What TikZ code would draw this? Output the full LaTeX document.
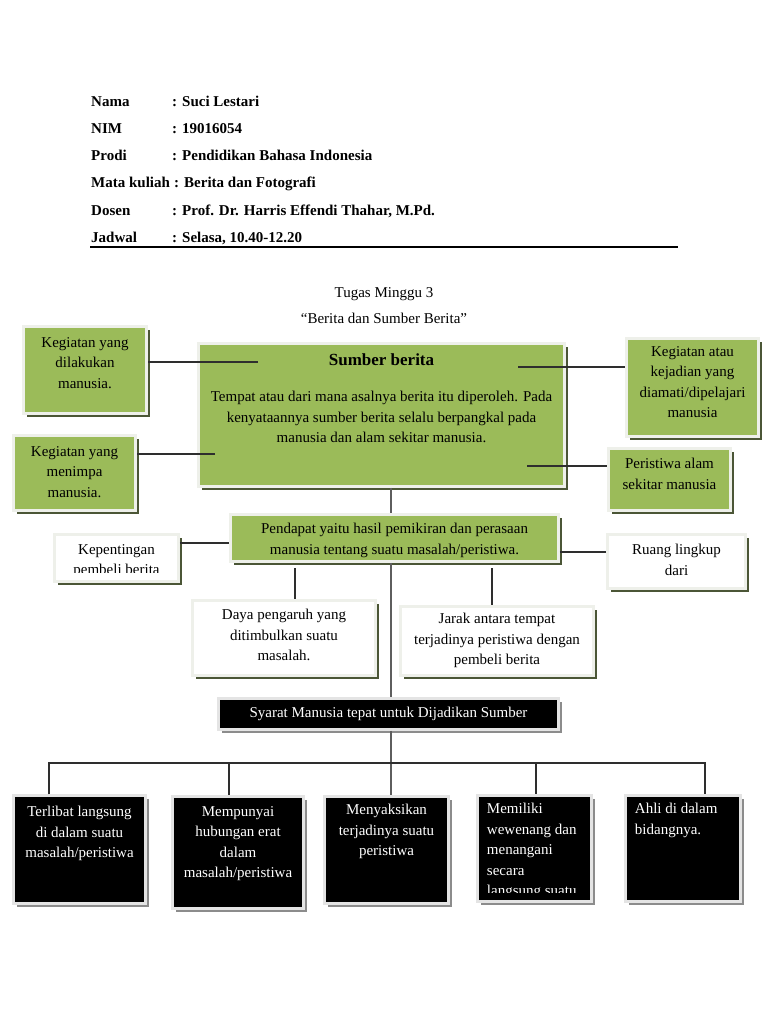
\documentclass[tikz,border=0pt]{standalone}
\usepackage{fontspec}
\setmainfont{Liberation Serif}
\usepackage{tikz}
\usetikzlibrary{positioning,shadows}

\definecolor{olive}{HTML}{9BBB59}
\definecolor{rim}{HTML}{EEF0EA}
\definecolor{krim}{HTML}{E4E4E4}
\definecolor{shade}{HTML}{4B5636}
\definecolor{kshade}{HTML}{8C8C8C}
\definecolor{linegrey}{HTML}{2E2E2E}
\definecolor{spinegrey}{HTML}{5E5E5E}

\begin{document}
\begin{tikzpicture}[
  x=1pt, y=-1pt,
  font=\fontsize{15}{20.5}\selectfont,
  wh/.style 2 args={minimum width=#1pt, minimum height=#2pt},
  box/.style={line width=2.5pt, inner sep=0pt},
  gbox/.style={box, draw=rim, fill=olive, drop shadow={shadow xshift=3pt, shadow yshift=-3pt, fill=shade, opacity=1}},
  wbox/.style={box, draw=rim, fill=white, drop shadow={shadow xshift=3pt, shadow yshift=-3pt, fill=shade, opacity=1}},
  kbox/.style={box, draw=krim, fill=black, drop shadow={shadow xshift=3pt, shadow yshift=-3pt, fill=kshade, opacity=1}},
  txt/.style={align=center, inner sep=0pt},
  ktxt/.style={txt, text=white},
  head/.style={anchor=base west, inner sep=0pt, font=\fontsize{15}{18}\selectfont\bfseries},
  link/.style={draw=linegrey, line width=1.2pt},
  spine/.style={draw=spinegrey, line width=1.8pt}
]
\useasboundingbox (0,0) rectangle (768,1024);

\node[head] (nama) at (91,107) {Nama};
\node[head] (nama-isi) at (172,107) {: Suci Lestari};
\node[head] (nim) at (91,134) {NIM};
\node[head] (nim-isi) at (172,134) {: 19016054};
\node[head] (prodi) at (91,161) {Prodi};
\node[head] (prodi-isi) at (172,161) {: Pendidikan Bahasa Indonesia};
\node[head] (matkul) at (91,188) {Mata kuliah};
\node[head] (matkul-isi) at (174,188) {: Berita dan Fotografi};
\node[head] (dosen) at (91,215) {Dosen};
\node[head] (dosen-isi) at (172,215) {: Prof. Dr. Harris Effendi Thahar, M.Pd.};
\node[head] (jadwal) at (91,242) {Jadwal};
\node[head] (jadwal-isi) at (172,242) {: Selasa, 10.40-12.20};
\draw[line width=1.2pt] (90,247) -- (678,247);

\node[anchor=base, inner sep=0pt] (tugas) at (384,297) {Tugas Minggu 3};
\node[anchor=base, inner sep=0pt] (judul) at (384,323) {“Berita dan Sumber Berita”};

\node[gbox, wh={123}{87}] (dilakukan) at (85,370) {};
\node[gbox, wh={122}{75}] (menimpa) at (74.5,473) {};
\node[gbox, wh={366}{143}] (sumber) at (381.5,415) {};
\node[gbox, wh={132}{98}] (kejadian) at (692.5,387.5) {};
\node[gbox, wh={122}{62}] (alam) at (669.5,479.5) {};
\node[gbox, wh={328}{47}] (pendapat) at (394.5,538) {};
\node[wbox, wh={124}{47}] (kepentingan) at (116.5,558) {};
\node[wbox, wh={138}{54}] (ruang) at (676.5,561.5) {};
\node[wbox, wh={183}{75}] (daya) at (284,638) {};
\node[wbox, wh={193}{69}] (jarak) at (497,641) {};
\node[kbox, wh={340}{31}] (syarat) at (388.5,714) {};
\node[kbox, wh={132}{108}] (terlibat) at (79.5,849.5) {};
\node[kbox, wh={131}{112}] (hubungan) at (238,852.5) {};
\node[kbox, wh={124}{107}] (saksi) at (386.5,850) {};
\node[kbox, wh={114}{106}] (wewenang) at (534.5,848.5) {};
\node[kbox, wh={115}{106}] (ahli) at (683,848.5) {};

\node[txt, below=12pt of dilakukan.north] (dilakukan-t) {Kegiatan yang\\dilakukan\\manusia.};
\node[txt, below=12pt of menimpa.north] (menimpa-t) {Kegiatan yang\\menimpa\\manusia.};
\node[txt, below=11pt of sumber.north, font=\fontsize{17}{20}\selectfont\bfseries] (sumber-judul) {Sumber berita};
\node[txt, below=49pt of sumber.north] (sumber-isi) {Tempat atau dari mana asalnya berita itu diperoleh. Pada\\kenyataannya sumber berita selalu berpangkal pada\\manusia dan alam sekitar manusia.};
\node[txt, below=9pt of kejadian.north] (kejadian-t) {Kegiatan atau\\kejadian yang\\diamati/dipelajari\\manusia};
\node[txt, below=11pt of alam.north] (alam-t) {Peristiwa alam\\sekitar manusia};
\node[txt, below=10pt of pendapat.north] (pendapat-t) {Pendapat yaitu hasil pemikiran dan perasaan\\manusia tentang suatu masalah/peristiwa.};
\begin{scope}
  \clip (kepentingan.north west) rectangle ([yshift=10pt]kepentingan.south east);
  \node[txt, below=11pt of kepentingan.north] (kepentingan-t) {Kepentingan\\pembeli berita};
\end{scope}
\node[txt, below=11pt of ruang.north] (ruang-t) {Ruang lingkup\\dari};
\node[txt, below=10pt of daya.north] (daya-t) {Daya pengaruh yang\\ditimbulkan suatu\\masalah.};
\begin{scope}
  \clip (jarak.north west) rectangle ([yshift=9.5pt]jarak.south east);
  \node[txt, below=8pt of jarak.north] (jarak-t) {Jarak antara tempat\\terjadinya peristiwa dengan\\pembeli berita};
\end{scope}
\node[ktxt] (syarat-t) at (syarat) {Syarat Manusia tepat untuk Dijadikan Sumber};
\node[ktxt, below=12pt of terlibat.north] (terlibat-t) {Terlibat langsung\\di dalam suatu\\masalah/peristiwa};
\node[ktxt, below=11pt of hubungan.north] (hubungan-t) {Mempunyai\\hubungan erat\\dalam\\masalah/peristiwa};
\node[ktxt, below=9pt of saksi.north] (saksi-t) {Menyaksikan\\terjadinya suatu\\peristiwa};
\begin{scope}
  \clip (wewenang.north west) rectangle ([yshift=10pt]wewenang.south east);
  \node[ktxt, align=left, below right=9pt and 10.5pt of wewenang.north west] (wewenang-t) {Memiliki\\wewenang dan\\menangani\\secara\\langsung suatu};
\end{scope}
\node[ktxt, align=left, below right=9pt and 10.5pt of ahli.north west] (ahli-t) {Ahli di dalam\\bidangnya.};

\coordinate (c-dilakukan) at (258,362);
\coordinate (c-menimpa) at (215,454);
\coordinate (c-kejadian) at (518,367);
\coordinate (c-alam) at (527,466);
\coordinate (c-kepentingan) at (205,543);
\coordinate (c-ruang) at (582,552);
\coordinate (c-daya) at (295,568);
\coordinate (c-jarak) at (492,568);
\coordinate (spine) at (391,763);
\coordinate (bar-l) at (49,763);
\coordinate (bar-2) at (229,763);
\coordinate (bar-4) at (536,763);
\coordinate (bar-r) at (705,763);

\draw[link] (c-dilakukan) -- (c-dilakukan -| dilakukan.east);
\draw[link] (c-menimpa) -- (c-menimpa -| menimpa.east);
\draw[link] (c-kejadian) -- (c-kejadian -| kejadian.west);
\draw[link] (c-alam) -- (c-alam -| alam.west);
\draw[link] (c-kepentingan -| kepentingan.east) -- (c-kepentingan -| pendapat.west);
\draw[link] (c-ruang -| pendapat.east) -- (c-ruang -| ruang.west);
\draw[link] (c-daya) -- (c-daya |- daya.north);
\draw[link] (c-jarak) -- (c-jarak |- jarak.north);
\draw[spine] (sumber.south -| spine) -- (pendapat.north -| spine);
\draw[spine] (pendapat.south -| spine) -- (syarat.north -| spine);
\draw[spine] (syarat.south -| spine) -- (saksi.north -| spine);
\draw[link] (bar-l |- terlibat.north) -- (bar-l) -- (bar-r) -- (bar-r |- ahli.north);
\draw[link] (bar-2) -- (bar-2 |- hubungan.north);
\draw[link] (bar-4) -- (bar-4 |- wewenang.north);
\end{tikzpicture}
\end{document}
